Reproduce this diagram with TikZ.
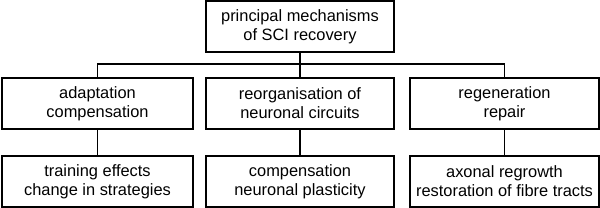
\documentclass[tikz,border=0pt]{standalone}
\usepackage{fontspec}
\setmainfont{Liberation Sans}
\begin{document}
\begin{tikzpicture}[x=1pt,y=-1pt,
  box/.style={draw,line width=1.2pt,align=center,inner sep=0pt,
    minimum height=51pt,font=\fontsize{16.4}{19}\selectfont},
  conn/.style={line width=1.2pt}]
\useasboundingbox (0,0) rectangle (600,208);
\node[box,minimum width=188pt] (top) at (300,26.5) {principal mechanisms\\of SCI recovery};
\node[box,minimum width=191pt] (a) at (97.5,103.5) {adaptation\\compensation};
\node[box,minimum width=188pt] (b) at (300,103.5) {reorganisation of\\neuronal circuits};
\node[box,minimum width=189pt] (c) at (504.5,103.5) {regeneration\\repair};
\node[box,minimum width=191pt] (a2) at (97.5,181.5) {training effects\\change in strategies};
\node[box,minimum width=188pt] (b2) at (300,181.5) {compensation\\neuronal plasticity};
\node[box,minimum width=189pt] (c2) at (504.5,181.5) {axonal regrowth\\restoration of fibre tracts};
\coordinate (bus) at (300,64);
\draw[conn] (top.south) -- (b.north);
\draw[conn] (a.north) -- (a.north |- bus) -| (c.north);
\draw[conn] (a.south) -- (a2.north);
\draw[conn] (b.south) -- (b2.north);
\draw[conn] (c.south) -- (c2.north);
\end{tikzpicture}
\end{document}
